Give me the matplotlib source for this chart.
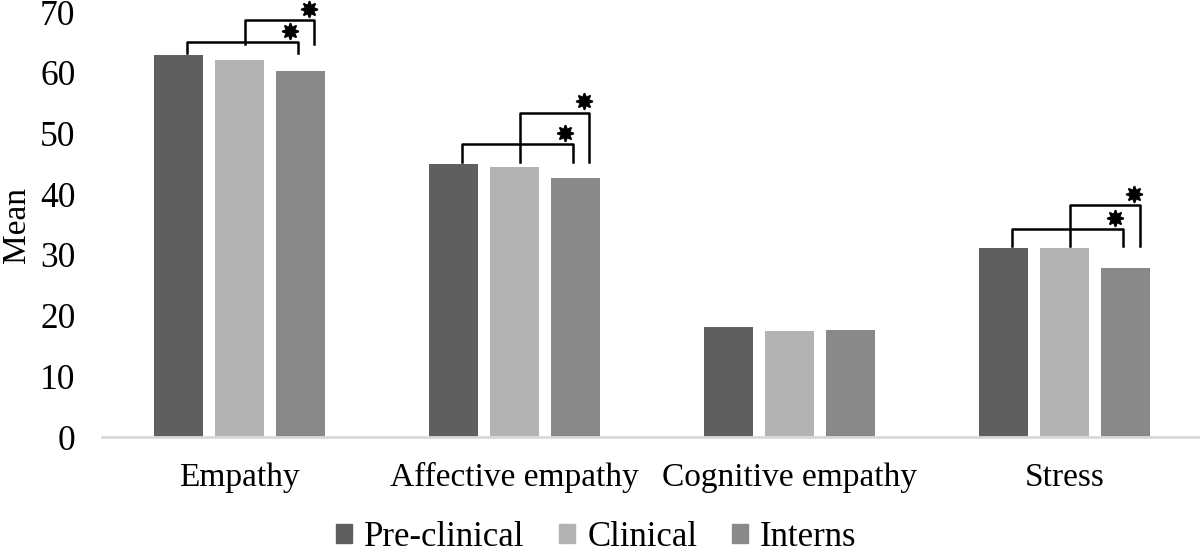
import matplotlib.pyplot as plt
import numpy as np
from matplotlib.patches import Patch

plt.rcParams['font.family'] = ['Liberation Serif', 'DejaVu Serif']

categories = ["Empathy", "Affective empathy", "Cognitive empathy", "Stress"]
groups = ["Pre-clinical", "Clinical", "Interns"]
pre_clinical = [62.9, 45.0, 18.1, 31.1]
clinical = [62.1, 44.5, 17.5, 31.1]
interns = [60.3, 42.7, 17.6, 27.8]
colors = ["#5f5f5f", "#b3b3b3", "#898989"]

# significance brackets: category index -> (lower level, upper level)
brackets = {0: (65.1, 68.7), 1: (48.3, 53.4), 3: (34.3, 38.2)}

fig = plt.figure(figsize=(12, 5.54), dpi=100)
ax = fig.add_axes([0.085, 0.211, 0.917, 0.767])

x = np.arange(len(categories))
width = 0.178
step = 0.222
series = [pre_clinical, clinical, interns]
for i, (vals, col) in enumerate(zip(series, colors)):
    ax.bar(x + (i - 1) * step, vals, width, color=col, label=groups[i])

star = dict(marker=(8, 1, 0), color="black", ms=12, mew=1.2, clip_on=False)
for c, (low, high) in brackets.items():
    top = max(s[c] for s in series)
    leg_bottom = top + 0.4
    # lower bracket: pre-clinical vs interns
    xl = x[c] - step + 0.03
    xr = x[c] + step - 0.01
    ax.plot([xl, xl, xr, xr], [leg_bottom, low, low, leg_bottom],
            color="black", lw=1.8, clip_on=False)
    ax.plot(xr - 0.03, low + 1.8, **star)
    # upper bracket: clinical vs interns
    xl = x[c] + 0.02
    xr = x[c] + step + 0.05
    ub = leg_bottom + (1.5 if c == 0 else 0)
    ax.plot([xl, xl, xr, xr], [ub, high, high, ub],
            color="black", lw=1.8, clip_on=False)
    ax.plot(xr - 0.02, high + 1.9, **star)

ax.set_xlim(-0.5, 3.5)
ax.set_ylim(0, 70)
ax.set_yticks(range(0, 71, 10))
ax.set_xticks(x)
ax.set_xticklabels(categories)
ax.tick_params(axis='x', length=0, pad=18, labelsize=24)
ax.tick_params(axis='y', length=0, pad=19, labelsize=25.5)
for s in ["top", "right", "left"]:
    ax.spines[s].set_visible(False)
ax.spines["bottom"].set_color("#d9d9d9")
ax.spines["bottom"].set_linewidth(2)
ax.set_ylabel("Mean", fontsize=24)
ax.yaxis.set_label_coords(-0.064, 0.5)

handles = [Patch(color=c) for c in colors]
fig.legend(handles, groups, loc='center', bbox_to_anchor=(0.497, 0.03),
           ncol=3, frameon=False, fontsize=25, handlelength=0.45,
           handleheight=0.45, handletextpad=0.35, columnspacing=1.0)

fig.savefig("out.png", dpi=100)
